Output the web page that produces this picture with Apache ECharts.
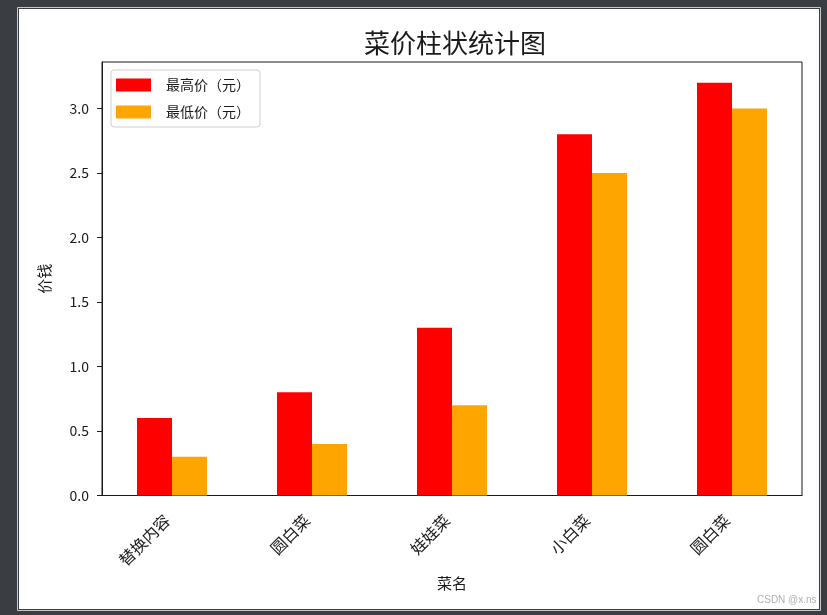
<!DOCTYPE html>
<html><head><meta charset="utf-8">
<script src="https://cdn.jsdelivr.net/npm/echarts@6/dist/echarts.min.js"></script>
<style>html,body{margin:0;padding:0;background:#3a3d41;}#c{width:827px;height:615px;}</style>
</head><body><div id="c"></div>
<script>
var categories = ['替换内容', '圆白菜', '娃娃菜', '小白菜', '圆白菜'];
var maxPrice = [0.6, 0.8, 1.3, 2.8, 3.2];
var minPrice = [0.3, 0.4, 0.7, 2.5, 3.0];
var seriesNames = ['最高价（元）', '最低价（元）'];
var FONT = '"Noto Sans CJK SC", sans-serif';
var chart = echarts.init(document.getElementById('c'));
chart.setOption({
  backgroundColor: '#3a3d41',
  animation: false,
  graphic: [
    {type: 'rect', z: -10, shape: {x: 17.5, y: 7.5, width: 803, height: 603}, style: {fill: '#3a3d41', stroke: '#c8c8c8', lineWidth: 1}},
    {type: 'rect', z: -9, shape: {x: 19, y: 9, width: 800, height: 600}, style: {fill: '#ffffff'}},
    {type: 'text', left: 757, top: 595, style: {text: 'CSDN @x.ns', fill: '#b0b0b0', font: '10px "Liberation Sans", sans-serif'}}
  ],
  title: {
    text: '菜价柱状统计图', left: 450, top: 25, textAlign: 'center',
    textStyle: {fontFamily: FONT, fontSize: 26, fontWeight: 'normal', color: '#1a1a1a'}
  },
  legend: {
    orient: 'vertical', left: 111, top: 70,
    data: seriesNames,
    itemWidth: 35, itemHeight: 13, itemGap: 13,
    padding: [8, 10, 8, 5],
    borderColor: '#d0d0d0', borderWidth: 1, borderRadius: 3,
    backgroundColor: '#ffffff',
    textStyle: {fontFamily: FONT, fontSize: 14, color: '#1a1a1a', padding: [0, 0, 0, 10]},
    icon: 'rect'
  },
  grid: {left: 102, top: 62, width: 700, height: 433.5, show: true, borderColor: '#1a1a1a', borderWidth: 1},
  xAxis: {
    type: 'category', data: categories,
    name: '菜名', nameLocation: 'middle', nameGap: 80,
    nameTextStyle: {fontFamily: FONT, fontSize: 15, color: '#1a1a1a'},
    axisLine: {lineStyle: {color: '#1a1a1a'}},
    axisTick: {alignWithLabel: true, length: 5, lineStyle: {color: '#1a1a1a'}},
    axisLabel: {rotate: 45, margin: 17, padding: [0, 7, 0, 0], fontFamily: FONT, fontSize: 16, color: '#1a1a1a'}
  },
  yAxis: {
    type: 'value', min: 0, max: 3.36, interval: 0.5,
    name: '价钱', nameLocation: 'middle', nameGap: 50,
    nameTextStyle: {fontFamily: FONT, fontSize: 15, color: '#1a1a1a'},
    axisLine: {show: true, lineStyle: {color: '#1a1a1a'}},
    axisTick: {show: true, length: 5, lineStyle: {color: '#1a1a1a'}},
    splitLine: {show: false},
    axisLabel: {fontFamily: FONT, fontSize: 14, color: '#1a1a1a', margin: 13,
      formatter: function (v) { return v.toFixed(1); }, showMaxLabel: false}
  },
  series: [
    {name: seriesNames[0], type: 'bar', data: maxPrice, barWidth: 35, barGap: '0%', itemStyle: {color: '#ff0000'}},
    {name: seriesNames[1], type: 'bar', data: minPrice, barWidth: 35, barGap: '0%', itemStyle: {color: '#ffa500'}}
  ]
});
</script></body></html>
